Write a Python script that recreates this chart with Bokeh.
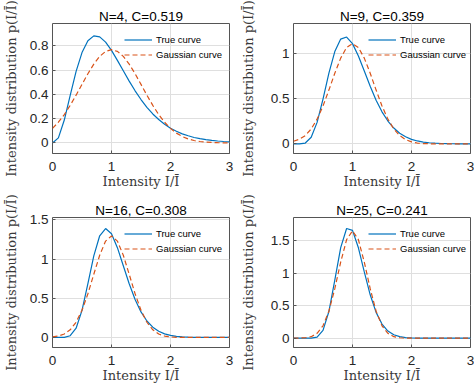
from bokeh.plotting import figure
from bokeh.layouts import gridplot
from bokeh.models import FixedTicker, Range1d
from bokeh.embed import file_html
from bokeh.resources import INLINE

# ---------------- data ----------------
intensity = [0.0, 0.1, 0.2, 0.3, 0.4, 0.5, 0.6, 0.7, 0.8, 0.9, 1.0,
             1.1, 1.2, 1.3, 1.4, 1.5, 1.6, 1.7, 1.8, 1.9, 2.0,
             2.1, 2.2, 2.3, 2.4, 2.5, 2.6, 2.7, 2.8, 2.9, 3.0]

true_n4 = [0.000, 0.042, 0.189, 0.392, 0.590, 0.745, 0.843, 0.883, 0.875, 0.831, 0.763,
           0.681, 0.595, 0.510, 0.430, 0.358, 0.294, 0.239, 0.193, 0.154, 0.122,
           0.096, 0.075, 0.059, 0.045, 0.035, 0.027, 0.021, 0.016, 0.012, 0.009]
gauss_n4 = [0.120, 0.171, 0.234, 0.310, 0.394, 0.483, 0.571, 0.650, 0.714, 0.755, 0.769,
            0.755, 0.714, 0.650, 0.571, 0.483, 0.394, 0.310, 0.234, 0.171, 0.120,
            0.081, 0.053, 0.033, 0.020, 0.012, 0.007, 0.004, 0.002, 0.001, 0.000]

true_n9 = [0.000, 0.000, 0.010, 0.074, 0.239, 0.497, 0.785, 1.024, 1.162, 1.185, 1.112,
           0.975, 0.808, 0.639, 0.485, 0.356, 0.254, 0.176, 0.119, 0.079, 0.051,
           0.033, 0.021, 0.013, 0.008, 0.005, 0.003, 0.002, 0.001, 0.001, 0.000]
gauss_n9 = [0.030, 0.052, 0.093, 0.166, 0.275, 0.421, 0.597, 0.784, 0.951, 1.069, 1.111,
            1.069, 0.951, 0.784, 0.597, 0.421, 0.275, 0.166, 0.093, 0.048, 0.023,
            0.010, 0.004, 0.002, 0.001, 0.000, 0.000, 0.000, 0.000, 0.000, 0.000]

true_n16 = [0.000, 0.000, 0.001, 0.022, 0.118, 0.346, 0.686, 1.040, 1.297, 1.389, 1.323,
            1.145, 0.915, 0.685, 0.484, 0.326, 0.210, 0.131, 0.079, 0.046, 0.026,
            0.014, 0.008, 0.004, 0.002, 0.001, 0.000, 0.000, 0.000, 0.000, 0.000]
gauss_n16 = [0.007, 0.018, 0.044, 0.098, 0.194, 0.347, 0.557, 0.806, 1.049, 1.229, 1.295,
             1.229, 1.049, 0.806, 0.557, 0.347, 0.194, 0.098, 0.044, 0.018, 0.007,
             0.002, 0.001, 0.000, 0.000, 0.000, 0.000, 0.000, 0.000, 0.000, 0.000]

true_n25 = [0.000, 0.000, 0.000, 0.001, 0.018, 0.120, 0.411, 0.894, 1.395, 1.690, 1.661,
            1.393, 1.021, 0.669, 0.398, 0.218, 0.111, 0.053, 0.024, 0.010, 0.004,
            0.002, 0.001, 0.000, 0.000, 0.000, 0.000, 0.000, 0.000, 0.000, 0.000]
gauss_n25 = [0.000, 0.002, 0.007, 0.024, 0.075, 0.192, 0.417, 0.763, 1.173, 1.518, 1.655,
             1.518, 1.173, 0.763, 0.417, 0.192, 0.075, 0.024, 0.007, 0.002, 0.000,
             0.000, 0.000, 0.000, 0.000, 0.000, 0.000, 0.000, 0.000, 0.000, 0.000]

panel_titles = ["N=4, C=0.519", "N=9, C=0.359", "N=16, C=0.308", "N=25, C=0.241"]
x_axis_label = "Intensity I/\u012A"
y_axis_label = "Intensity distribution p(I/\u012A)"

x_ticks = [0, 1, 2, 3]
x_tick_labels = ["0", "1", "2", "3"]
y_ticks_n4 = [0, 0.2, 0.4, 0.6, 0.8]
y_tick_labels_n4 = ["0", "0.2", "0.4", "0.6", "0.8"]
y_ticks_n9 = [0, 0.5, 1]
y_tick_labels_n9 = ["0", "0.5", "1"]
y_ticks_n16 = [0, 0.5, 1, 1.5]
y_tick_labels_n16 = ["0", "0.5", "1", "1.5"]
y_ticks_n25 = [0, 0.5, 1, 1.5]
y_tick_labels_n25 = ["0", "0.5", "1", "1.5"]

y_limits = [(-0.087, 0.985), (-0.106, 1.335), (-0.128, 1.53), (-0.143, 1.86)]

# ---------------- styling ----------------
BLUE = "#0072BD"
ORANGE = "#D95319"
AXC = "#262626"
FRAME = "#555555"
LABC = "#3a3a3a"
GRID = "#dfdfdf"
SANS = "Liberation Sans"
SERIF = "DejaVu Serif"


def make_panel(i, true_vals, gauss_vals, yt, ytl):
    col = i % 2
    row = i // 2
    width = 237
    height = 195 if row == 0 else 194
    b_left = 49 if col == 0 else 50
    b_right = 8 if col == 0 else 4
    b_top = 23 if row == 0 else 22
    b_bottom = 42
    frame_w = width - b_left - b_right
    frame_h = height - b_top - b_bottom
    ylo, yhi = y_limits[i]
    p = figure(width=width, height=height, output_backend="svg", toolbar_location=None,
               title=panel_titles[i], x_range=Range1d(0, 3), y_range=Range1d(ylo, yhi),
               min_border_left=b_left, min_border_right=b_right,
               min_border_top=b_top, min_border_bottom=b_bottom,
               background_fill_color="white", border_fill_color="white")
    p.outline_line_color = FRAME
    p.outline_line_width = 1
    p.outline_line_alpha = 1

    p.title.align = "center"
    p.title.text_font = SANS
    p.title.text_font_size = "13.5px"
    p.title.text_font_style = "normal"
    p.title.text_color = "#000000"
    p.title.standoff = 0
    p.title.offset = 0

    p.line(intensity, true_vals, line_color=BLUE, line_width=1.2, legend_label="True curve")
    p.line(intensity, gauss_vals, line_color=ORANGE, line_width=1.2, line_dash="5 3",
           legend_label="Gaussian curve")

    p.xaxis.ticker = FixedTicker(ticks=x_ticks)
    p.xaxis.major_label_overrides = {k: v for k, v in zip(x_ticks, x_tick_labels)}
    p.yaxis.ticker = FixedTicker(ticks=yt)
    p.yaxis.major_label_overrides = {k: v for k, v in zip(yt, ytl)}
    for ax in (p.xaxis, p.yaxis):
        ax.axis_line_color = None
        ax.major_tick_in = 3
        ax.major_tick_out = 0
        ax.major_tick_line_color = FRAME
        ax.minor_tick_line_color = None
        ax.major_label_text_font = SANS
        ax.major_label_text_font_size = "13.5px"
        ax.major_label_text_color = AXC
        ax.axis_label_text_font = SERIF
        ax.axis_label_text_font_size = "13px"
        ax.axis_label_text_font_style = "normal"
        ax.axis_label_text_color = LABC
    p.xaxis.axis_label = x_axis_label
    p.yaxis.axis_label = y_axis_label
    p.xaxis.major_label_standoff = 8
    p.xaxis.axis_label_standoff = 0
    p.yaxis.major_label_standoff = 4
    p.yaxis.axis_label_standoff = 8 if col == 0 else 12

    p.xgrid.grid_line_color = GRID
    p.ygrid.grid_line_color = GRID
    p.xgrid.grid_line_width = 1
    p.ygrid.grid_line_width = 1

    lg = p.legend[0]
    lg.border_line_color = None
    lg.background_fill_alpha = 0
    lg.label_text_font = SANS
    lg.label_text_font_size = "9.5px"
    lg.label_text_color = "#000000"
    lg.glyph_width = 28
    lg.glyph_height = 15
    lg.label_height = 15
    lg.label_standoff = 4
    lg.spacing = 0
    lg.padding = 0
    lg.margin = 0
    # bottom-left corner of the legend box, in pixels from the frame's bottom-left
    lg.location = (frame_w - 108, frame_h - 38.5)
    return p


p1 = make_panel(0, true_n4, gauss_n4, y_ticks_n4, y_tick_labels_n4)
p2 = make_panel(1, true_n9, gauss_n9, y_ticks_n9, y_tick_labels_n9)
p3 = make_panel(2, true_n16, gauss_n16, y_ticks_n16, y_tick_labels_n16)
p4 = make_panel(3, true_n25, gauss_n25, y_ticks_n25, y_tick_labels_n25)

grid = gridplot([[p1, p2], [p3, p4]], toolbar_location=None)

open("out.html", "w").write(file_html(grid, INLINE))
